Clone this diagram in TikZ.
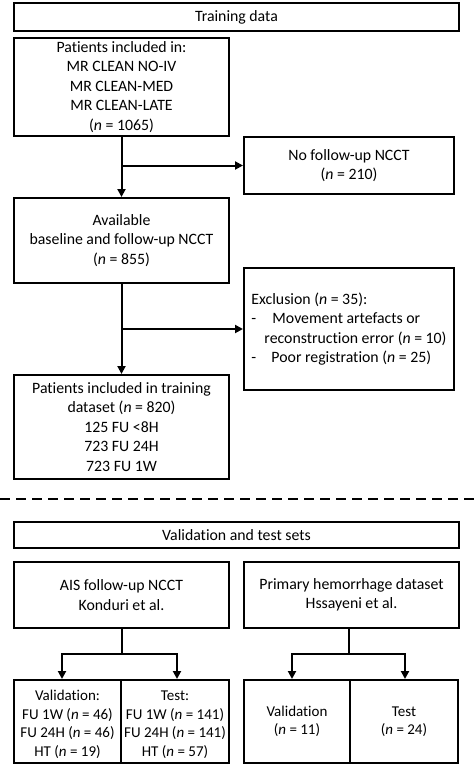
\documentclass[tikz,border=0pt]{standalone}
\usepackage{fontspec}
\setmainfont{Carlito}[Ligatures=NoCommon]
\usetikzlibrary{arrows.meta,calc}
\begin{document}
\begin{tikzpicture}[x=1pt,y=-1pt,
  box/.style={draw, line width=2pt, align=center, inner sep=0pt, font=\fontsize{15.8pt}{19.5pt}\selectfont},
  sbox/.style={draw, line width=2pt, align=center, inner sep=0pt, font=\fontsize{15pt}{18.5pt}\selectfont},
  ln/.style={line width=2pt},
  arr/.style={line width=2pt, -{Triangle[length=8pt,width=8pt]}}]
\useasboundingbox (0,0) rectangle (474,765);
% training part
\node[box, minimum width=445pt, minimum height=28pt] (td) at (236.5,17) {Training data};
\node[box, minimum width=215pt, minimum height=98pt] (b1) at (121.5,87)
  {Patients included in:\\MR CLEAN NO-IV\\MR CLEAN-MED\\MR CLEAN-LATE\\(\textit{n} = 1065)};
\node[box, minimum width=210pt, minimum height=57pt] (nofu) at (349,165.5)
  {No follow-up NCCT\\(\textit{n} = 210)};
\node[box, minimum width=215pt, minimum height=85pt] (b2) at (121.5,240.5)
  {Available\\baseline and follow-up NCCT\\(\textit{n} = 855)};
\node[box, minimum width=210pt, minimum height=122pt, align=left] (ex) at (349,329)
  {Exclusion (\textit{n} = 35):\\
   \makebox[21pt][l]{-}Movement artefacts or\\
   \hspace{13pt}reconstruction error (\textit{n} = 10)\\
   \makebox[20pt][l]{-}Poor registration (\textit{n} = 25)};
\node[box, minimum width=215pt, minimum height=104pt] (b3) at (121.5,427)
  {Patients included in training\\dataset (\textit{n} = 820)\\125 FU {<}8H\\723 FU 24H\\723 FU 1W};
\draw[arr] (b1.south) -- (b2.north);
\draw[arr] (b1.south |- nofu.west) -- (nofu.west);
\draw[arr] (b2.south) -- (b3.north);
\draw[arr] (b2.south |- ex.west) -- (ex.west);
% separator
\coordinate (sepL) at (0,499);
\coordinate (sepR) at (474,499);
\draw[ln, dash pattern=on 10pt off 6pt] (sepL) -- (sepR);
% validation part
\node[box, minimum width=445pt, minimum height=26pt] (vt) at (236.5,535) {Validation and test sets};
\node[box, minimum width=215pt, minimum height=66pt] (ais) at (121.5,595)
  {AIS follow-up NCCT\\Konduri et al.};
\node[box, minimum width=215pt, minimum height=66pt] (ph) at (351.5,595)
  {Primary hemorrhage dataset\\Hssayeni et al.};
\node[sbox, minimum width=107pt, minimum height=83pt] (vl) at (67.5,721.5)
  {\rule{0pt}{16pt}Validation:\\FU 1W (\textit{n} = 46)\\FU 24H (\textit{n} = 46)\\HT (\textit{n} = 19)};
\node[sbox, minimum width=108pt, minimum height=83pt] (tl) at (175,721.5)
  {\rule{0pt}{16pt}Test:\\FU 1W (\textit{n} = 141)\\FU 24H (\textit{n} = 141)\\HT (\textit{n} = 57)};
\node[sbox, minimum width=106pt, minimum height=83pt] (vr) at (297,721.5)
  {Validation\\(\textit{n} = 11)};
\node[sbox, minimum width=108pt, minimum height=83pt] (tr) at (404,721.5)
  {Test\\(\textit{n} = 24)};
\draw[ln] (ais.south) -- ++(0,25) coordinate (ja);
\draw[arr] (ja) -| ($(vl.north)+(-5.5,0)$);
\draw[arr] (ja) -| ($(tl.north)+(2,0)$);
\draw[ln] (ph.south -| tr.west) -- ++(0,25) coordinate (jb);
\draw[arr] (jb) -| ($(vr.north)+(-5,0)$);
\draw[arr] (jb) -| ($(tr.north)+(1,0)$);
\end{tikzpicture}
\end{document}
